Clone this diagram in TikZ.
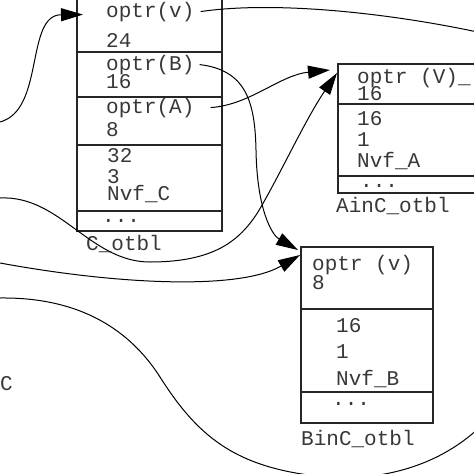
\documentclass[tikz,border=0pt]{standalone}
\usepackage{fontspec}
\usepackage{tikz}
\usetikzlibrary{arrows.meta}
\newfontfamily\otblfont{Liberation Mono}
\tikzset{
  tbl/.style={draw=black!85, line width=1.1pt, inner sep=0pt, outer sep=0pt},
  fld/.style={font=\otblfont\fontsize{21}{24}\selectfont, text=black!78, anchor=base west, inner sep=0pt},
  ptr/.style={draw=black, line width=1pt, -{Triangle[length=22pt,width=13pt]}},
  wire/.style={draw=black, line width=1pt},
}

\begin{document}
\begin{tikzpicture}[x=1pt, y=-1pt]
    \useasboundingbox (0,0) rectangle (474,474);
    \clip (0,0) rectangle (474,474);

    \node[tbl, minimum width=145, minimum height=251, anchor=south west] (cotbl) at (77,231) {};
    \foreach \y in {52,97,145,211} \draw[tbl] (77,\y) -- (222,\y);
    \node[fld] (cv) at (106,17) {optr(v)};
    \node[fld] (c24) at (106,47) {24};
    \node[fld] (cb) at (106,70) {optr(B)};
    \node[fld] (c16) at (106,88) {16};
    \node[fld] (ca) at (106,113) {optr(A)};
    \node[fld] (c8) at (106,136) {8};
    \node[fld] (c32) at (107,162) {32};
    \node[fld] (c3) at (107,183) {3};
    \node[fld] (cnvf) at (107,200) {Nvf\_C};
    \node[fld] (cdots) at (102,222) {...};
    \node[fld] (clabel) at (86,250) {C\_otbl};

    \node[tbl, minimum width=170, minimum height=129, anchor=north west] (ainc) at (338,64) {};
    \foreach \y in {104,176} \draw[tbl] (338,\y) -- (508,\y);
    \node[fld] (av) at (357,83) {optr (V)\_};
    \node[fld] (a16) at (357,100) {16};
    \node[fld] (a16b) at (357,125) {16};
    \node[fld] (a1) at (357,146) {1};
    \node[fld] (anvf) at (357,167) {Nvf\_A};
    \node[fld] (adots) at (360,187) {...};
    \node[fld] (alabel) at (336,212) {AinC\_otbl};

    \node[tbl, minimum width=132, minimum height=176, anchor=north west] (binc) at (301,247) {};
    \foreach \y in {309,392} \draw[tbl] (301,\y) -- (433,\y);
    \node[fld] (bv) at (312,270) {optr (v)};
    \node[fld] (b8) at (312,289) {8};
    \node[fld] (b16) at (336,332) {16};
    \node[fld] (b1) at (336,358) {1};
    \node[fld] (bnvf) at (336,385) {Nvf\_B};
    \node[fld] (bdots) at (332,405) {...};
    \node[fld] (blabel) at (301,445) {BinC\_otbl};

    \node[fld] (cstub) at (0,390) {C};

    \coordinate (inl) at (0,122);
    \coordinate (loopl) at (0,198);
    \coordinate (binl) at (0,263);
    \coordinate (lowl) at (0,298);
    \coordinate (vout) at (482,33);
    \coordinate (lowr) at (485,422);

    \draw[ptr] (inl) .. controls (45,110) and (25,15) .. ([shift={(6,3)}]cotbl.west |- cv.west);
    \draw[wire] ([xshift=6]cv.east) .. controls (280,0) and (400,15) .. (vout);
    \draw[ptr] ([xshift=5]cb.east) .. controls (245,70) and (255,100) .. (256,150)
        .. controls (257,210) and (272,235) .. ([shift={(-3,3)}]binc.north west);
    \draw[ptr] ([xshift=16]ca.east) .. controls (250,105) and (280,75) .. ([shift={(-8,6)}]ainc.north west);
    \draw[ptr] (loopl) .. controls (60,195) and (90,262) .. (150,262)
        .. controls (215,262) and (240,240) .. (258,212)
        .. controls (280,175) and (305,120) .. ([shift={(-1,9)}]ainc.north west);
    \draw[ptr] (binl) .. controls (120,285) and (240,290) .. ([shift={(-1,8)}]binc.north west);
    \draw[wire] (lowl) .. controls (80,297) and (130,330) .. (160,377)
        .. controls (200,440) and (240,472) .. (340,478)
        .. controls (400,478) and (450,458) .. (lowr);
\end{tikzpicture}
\end{document}
